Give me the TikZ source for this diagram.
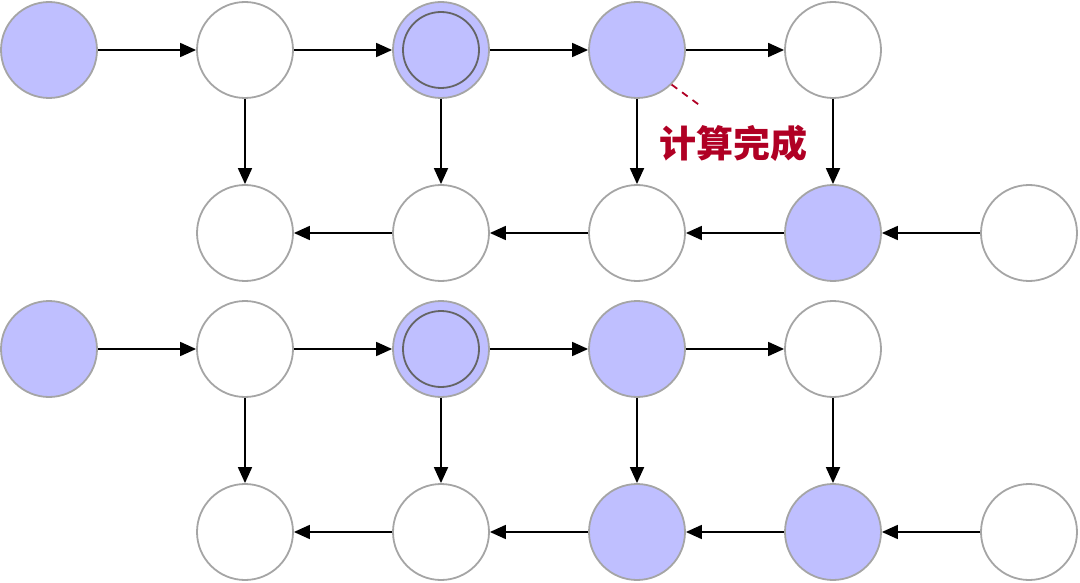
\documentclass[tikz,border=0pt]{standalone}
\usepackage{fontspec}
\newfontfamily\cjk{Noto Sans CJK SC}
\usetikzlibrary{arrows.meta}
\definecolor{nodefill}{RGB}{191,191,255}
\definecolor{nodeline}{RGB}{165,165,165}
\definecolor{inner}{RGB}{100,100,100}
\definecolor{lab}{RGB}{176,0,36}
\tikzset{
  st/.style={circle,minimum size=96pt,inner sep=0pt,draw=nodeline,line width=1.8pt,fill=white},
  on/.style={st,fill=nodefill},
  edge/.style={-{Triangle[length=16pt,width=14pt]},line width=1.8pt,black},
}
\begin{document}
\begin{tikzpicture}[x=1pt,y=-1pt]
\useasboundingbox (0,0) rectangle (1080,583);
\node[on] (a1) at (49,50) {};
\node[st] (a2) at (245,50) {};
\node[on] (a3) at (441,50) {};
\draw[inner,line width=1.8pt] (a3.center) circle (38pt);
\node[on] (a4) at (637,50) {};
\node[st] (a5) at (833,50) {};
\node[st] (b2) at (245,233) {};
\node[st] (b3) at (441,233) {};
\node[st] (b4) at (637,233) {};
\node[on] (b5) at (833,233) {};
\node[st] (b6) at (1029,233) {};
\node[on] (c1) at (49,349) {};
\node[st] (c2) at (245,349) {};
\node[on] (c3) at (441,349) {};
\draw[inner,line width=1.8pt] (c3.center) circle (38pt);
\node[on] (c4) at (637,349) {};
\node[st] (c5) at (833,349) {};
\node[st] (d2) at (245,532) {};
\node[st] (d3) at (441,532) {};
\node[on] (d4) at (637,532) {};
\node[on] (d5) at (833,532) {};
\node[st] (d6) at (1029,532) {};
% edges
\foreach \t in {a,c}{
  \draw[edge] (\t1) -- (\t2);
  \draw[edge] (\t2) -- (\t3);
  \draw[edge] (\t3) -- (\t4);
  \draw[edge] (\t4) -- (\t5);
}
\foreach \t/\u in {a/b,c/d}{
  \foreach \i in {2,3,4,5}{
    \draw[edge] (\t\i) -- (\u\i);
  }
  \draw[edge] (\u6) -- (\u5);
  \draw[edge] (\u5) -- (\u4);
  \draw[edge] (\u4) -- (\u3);
  \draw[edge] (\u3) -- (\u2);
}
% label
\node[inner sep=0pt,text=lab,font=\cjk\bfseries\fontsize{37}{42}\selectfont] (lbl) at (733,143) {计算完成};
\coordinate (lp) at (702,107);
\draw[lab,dash pattern=on 7pt off 6pt,line width=1.8pt] (a4.-45) -- (lp);
\end{tikzpicture}
\end{document}
